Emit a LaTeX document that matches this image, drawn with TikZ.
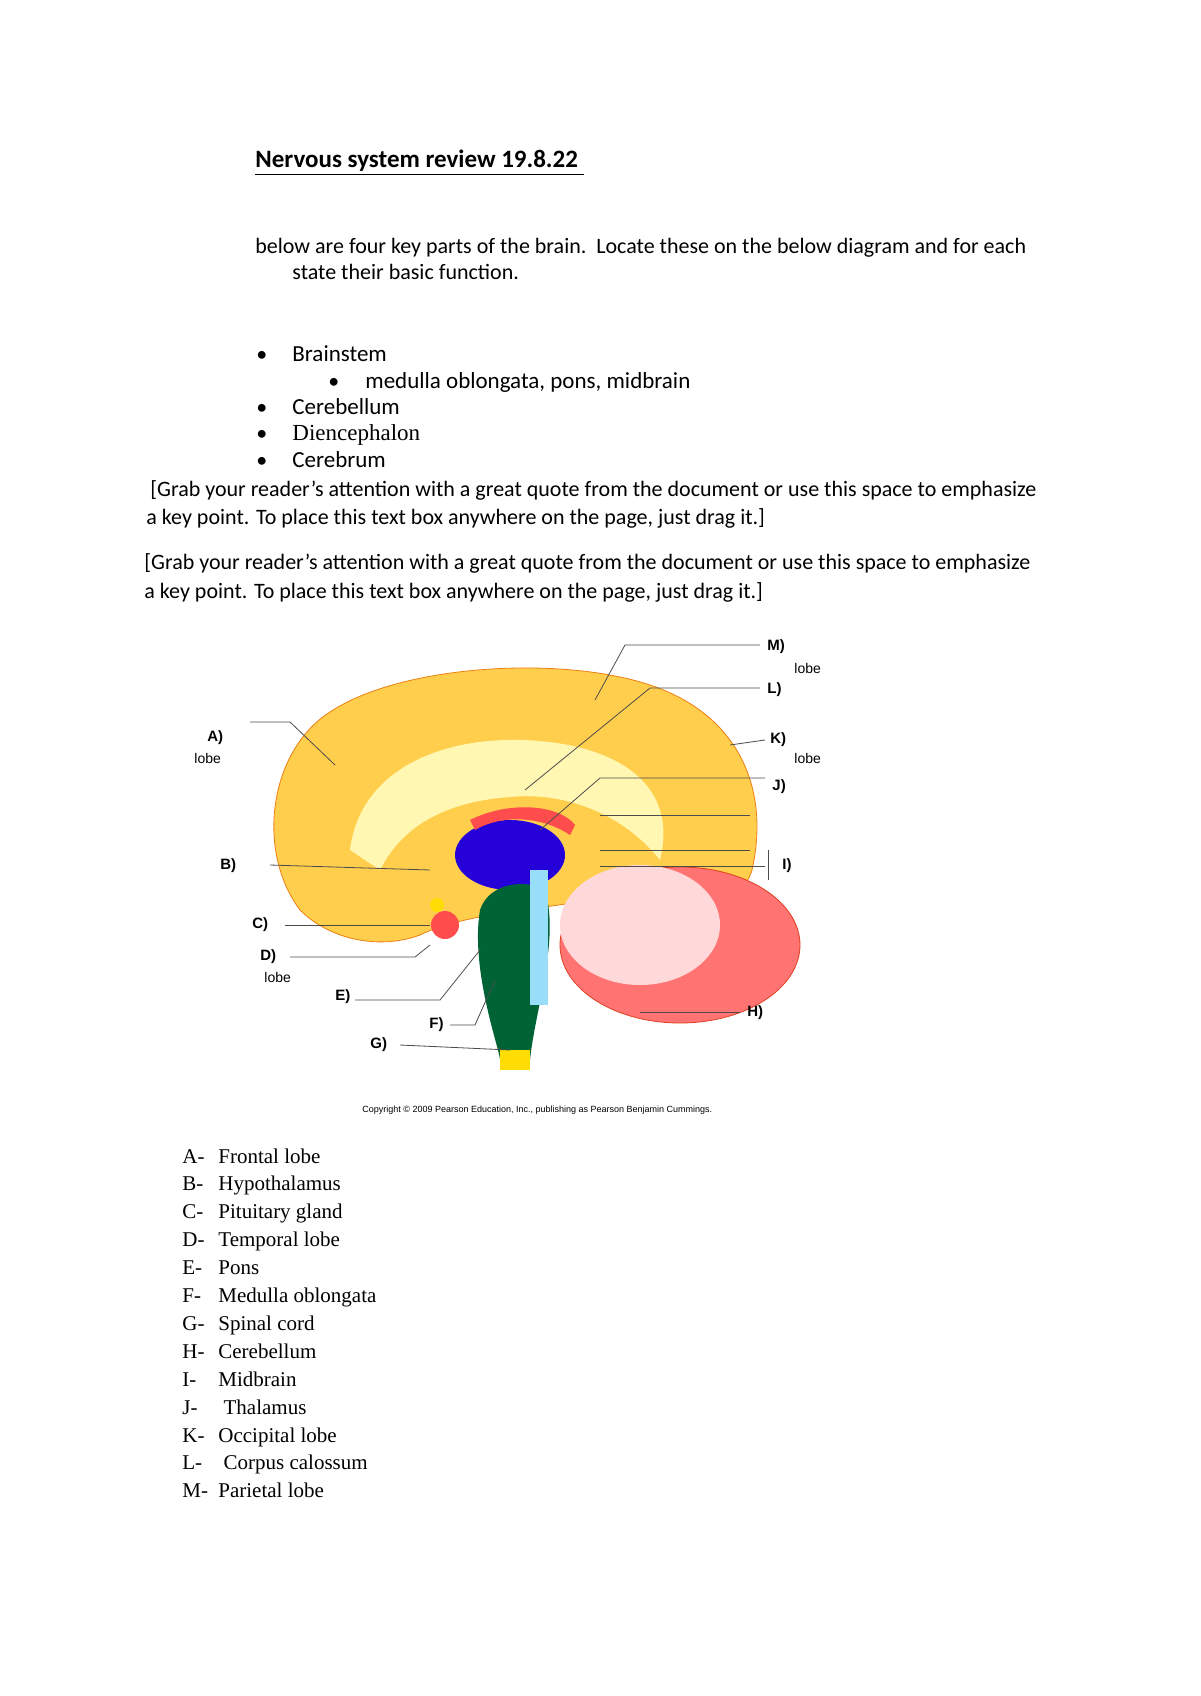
\documentclass[tikz,border=0pt]{standalone}
\usepackage{fontspec}
\setmainfont{Carlito}
\newfontfamily\serif{Liberation Serif}
\newfontfamily\arial{Liberation Sans}
\begin{document}
\begin{tikzpicture}[x=0.5pt,y=-0.5pt,
  txt/.style={anchor=base west,inner sep=0,font=\fontsize{11}{13}\selectfont},
  lab/.style={anchor=west,inner sep=1pt,font=\arial\bfseries\fontsize{7.5}{9}\selectfont},
  sub/.style={anchor=west,inner sep=1pt,font=\arial\fontsize{7}{8}\selectfont},
  ans/.style={anchor=base west,inner sep=0,font=\serif\fontsize{10.5}{12}\selectfont},
  ld/.style={draw=black!70,line width=0.4pt}]
\useasboundingbox (0,0) rectangle (1200,1696);
\fill[white] (0,0) rectangle (1200,1696);
\node[txt,font=\bfseries\fontsize{12.5}{14}\selectfont] (title) at (255,168) {\underline{Nervous system review 19.8.22 }};
\node[txt] (i1) at (255,254) {below are four key parts of the brain.\ \ Locate these on the below diagram and for each};
\node[txt] (i2) at (292,279) {state their basic function.};
\foreach \y/\t in {361/Brainstem,414/Cerebellum,467/Cerebrum}{\node[txt] at (256,\y) {•}; \node[txt,font=\fontsize{11.5}{13}\selectfont] at (292,\y) {\t};}
\node[txt] at (256,440) {•}; \node[txt,font=\serif\fontsize{11.5}{13}\selectfont] (dien) at (292,440) {Diencephalon};
\node[txt] at (328,388) {•}; \node[txt,font=\fontsize{11.5}{13}\selectfont] (med) at (365,388) {medulla oblongata, pons, midbrain};
\node[txt] (q1) at (150,496) {[Grab your reader’s attention with a great quote from the document or use this space to emphasize};
\node[txt] (q2) at (146,524) {a key point. To place this text box anywhere on the page, just drag it.]};
\node[txt] (q3) at (144,569) {[Grab your reader’s attention with a great quote from the document or use this space to emphasize};
\node[txt] (q4) at (144,598) {a key point. To place this text box anywhere on the page, just drag it.]};
% brain
\fill[orange!55!yellow!70!white,draw=orange!70!brown] (300,910) .. controls (255,850) and (270,750) .. (330,712) .. controls (400,665) and (560,655) .. (650,685) .. controls (740,715) and (770,790) .. (752,870) .. controls (740,910) and (700,890) .. (640,890) .. controls (560,910) and (470,910) .. (420,935) .. controls (380,950) and (330,940) .. (300,910) -- cycle;
\fill[orange!20!yellow!30!white] (350,850) .. controls (360,770) and (440,738) .. (520,740) .. controls (610,742) and (680,780) .. (660,860) .. controls (620,810) and (560,792) .. (510,797) .. controls (440,802) and (400,830) .. (380,870) -- cycle;
\fill[red!40!pink,draw=red!50!brown] (680,945) ellipse (120 and 78);
\fill[pink!60!white] (640,925) ellipse (80 and 60);
\fill[blue!70!violet] (510,855) ellipse (55 and 35);
\fill[red!70] (470,820) .. controls (510,800) and (560,805) .. (575,825) -- (570,835) .. controls (540,815) and (500,815) .. (475,830) -- cycle;
\fill[teal!70!green!60!black] (480,910) .. controls (470,970) and (500,1050) .. (500,1060) -- (530,1060) .. controls (535,1010) and (560,940) .. (545,890) .. controls (530,880) and (490,880) .. (480,910) -- cycle;
\fill[cyan!40] (530,870) rectangle (548,1005);
\fill[yellow!80!orange] (500,1050) rectangle (530,1070);
\fill[red!60!pink] (445,925) circle (14);
\fill[yellow!80!orange] (437,905) circle (7);
% labels
\node[lab] (A) at (205,738) {A)}; \node[sub] at (192,758) {lobe};
\draw[ld] (250,722) -- (290,722) -- (335,765);
\node[lab] (M) at (765,647) {M)}; \node[sub] at (792,668) {lobe};
\draw[ld] (760,645) -- (625,645) -- (595,700);
\node[lab] (L) at (765,690) {L)};
\draw[ld] (760,688) -- (650,688) -- (525,790);
\node[lab] (K) at (768,740) {K)}; \node[sub] at (792,758) {lobe};
\draw[ld] (765,740) -- (730,745);
\node[lab] (J) at (770,787) {J)};
\draw[ld] (765,778) -- (600,778) -- (540,830);
\node[lab] (I) at (780,866) {I)};
\draw[ld] (768,850) -- (768,880); \draw[ld] (765,866) -- (600,866);
\draw[ld] (600,815) -- (750,815); \draw[ld] (600,850) -- (750,850);
\node[lab] (H) at (745,1013) {H)};
\draw[ld] (740,1012) -- (640,1012);
\node[lab] (B) at (218,866) {B)};
\draw[ld] (270,865) -- (430,870);
\node[lab] (C) at (250,925) {C)};
\draw[ld] (285,925) -- (430,925);
\node[lab] (D) at (258,957) {D)}; \node[sub] at (262,977) {lobe};
\draw[ld] (290,957) -- (415,957) -- (430,945);
\node[lab] (E) at (333,997) {E)};
\draw[ld] (355,1000) -- (440,1000) -- (480,950);
\node[lab] (F) at (427,1025) {F)};
\draw[ld] (450,1025) -- (475,1025) -- (495,980);
\node[lab] (G) at (368,1045) {G)};
\draw[ld] (400,1045) -- (510,1050);
\node[anchor=west,inner sep=0,font=\arial\fontsize{4.5}{5}\selectfont] (copy) at (362,1110) {Copyright © 2009 Pearson Education, Inc., publishing as Pearson Benjamin Cummings.};
% answers
\foreach \i/\t [count=\n from 0] in {A-/Frontal lobe,B-/Hypothalamus,C-/Pituitary gland,D-/Temporal lobe,E-/Pons,F-/Medulla oblongata,G-/Spinal cord,H-/Cerebellum,I-/Midbrain,J-/\ Thalamus,K-/Occipital lobe,L-/\ Corpus calossum,M-/Parietal lobe}{
 \node[ans] at (182,{1163+27.9*\n}) {\i}; \node[ans] at (218,{1163+27.9*\n}) {\t};}
\end{tikzpicture}
\end{document}
